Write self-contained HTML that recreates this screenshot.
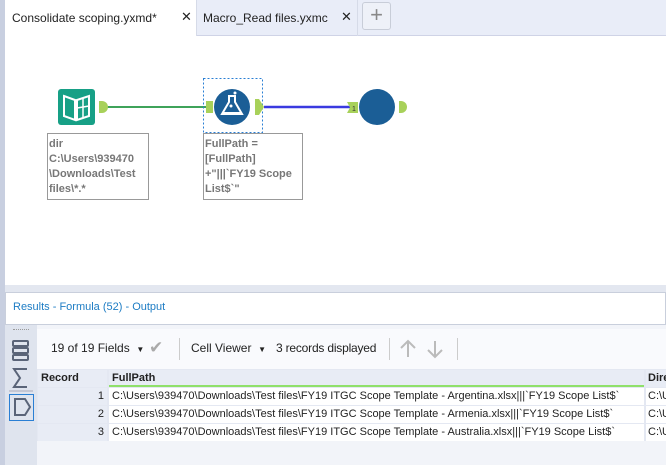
<!DOCTYPE html>
<html><head><style>
body{margin:0;width:666px;height:465px;overflow:hidden;background:#fff;font-family:"Liberation Sans",sans-serif;position:relative}
div{position:absolute;box-sizing:border-box}
.t{font-size:12px;color:#222;white-space:nowrap}
.ann{border:1px solid #999;background:#fff;color:#777;font-weight:bold;font-size:11px;line-height:15px;padding:3px 1px}
.cell{font-size:11px;white-space:nowrap;overflow:hidden;height:17px;line-height:17px;background:#fff;color:#222}
</style></head><body>
<div style="left:0;top:0;width:666px;height:36px;background:#e9edf8;border-bottom:1px solid #cfd3e6"></div>
<div style="left:0;top:0;width:5px;height:465px;background:#c8cfe0"></div>
<div style="left:5px;top:0;width:191px;height:37px;background:#fff"></div>
<div class="t" style="left:12px;top:11px;font-size:12px">Consolidate scoping.yxmd*</div>
<div class="t" style="left:181px;top:9px;font-size:13px">✕</div>
<div style="left:196px;top:0;width:1px;height:36px;background:#d6dbe8"></div>
<div class="t" style="left:203px;top:11px;font-size:12px">Macro_Read files.yxmc</div>
<div class="t" style="left:341px;top:9px;font-size:13px">✕</div>
<div style="left:357px;top:0;width:1px;height:36px;background:#d6dbe8"></div>
<div style="left:362px;top:2px;width:29px;height:28px;border:1px solid #c8cdd8;border-radius:3px;background:#eef1f8;color:#888;font-size:22px;line-height:24px;text-align:center">+</div>
<div style="left:5px;top:285px;width:661px;height:7px;background:#e3e7f0"></div>
<svg style="position:absolute;left:0;top:0" width="666" height="285">
<line x1="105" y1="107" x2="206" y2="107" stroke="#3fa35a" stroke-width="2"/>
<line x1="264" y1="107" x2="350" y2="107" stroke="#3a3ae0" stroke-width="2.5"/>
<rect x="58" y="89" width="37" height="36" rx="3" fill="#17a086"/>
<path d="M64 96 L75 100 L75 120 L64 116Z M77 100 L89 96 L89 116 L77 120Z" fill="none" stroke="#fff" stroke-width="2"/>
<line x1="83" y1="98" x2="83" y2="118" stroke="#fff" stroke-width="1.5"/>
<line x1="77" y1="108" x2="89" y2="106" stroke="#fff" stroke-width="1.5"/>
<path d="M99 101 h3 a6 6 0 0 1 0 12 h-3z" fill="#a8d15a"/>
<rect x="203.5" y="78.5" width="59" height="54" fill="none" stroke="#2a7fd4" stroke-dasharray="2,2"/>
<path d="M206 101 h7 v12 h-7z" fill="#a8d15a"/>
<circle cx="232" cy="107" r="18" fill="#1b5e96"/>
<path d="M229 96 v6 l-7 12 h20 l-7 -12 v-6z" fill="none" stroke="#fff" stroke-width="2"/>
<path d="M223 112 h18 l1 2 h-20z" fill="#fff"/>
<circle cx="231" cy="106" r="1.5" fill="#fff"/><circle cx="235" cy="93" r="1.5" fill="#fff"/>
<path d="M255 99 h4 l5 8 l-5 8 h-4z" fill="#a8d15a"/>
<path d="M347 102 h11 v11 h-11 l3 -5.5z" fill="#a8d15a"/>
<text x="352" y="111" font-size="7" fill="#333" font-family="Liberation Sans">1</text>
<circle cx="377" cy="107" r="18" fill="#1b5e96"/>
<path d="M399 101 h2 a6 6 0 0 1 0 12 h-2z" fill="#a8d15a"/>
</svg>
<div class="ann" style="left:47px;top:133px;width:102px;height:67px">dir<br>C:\Users\939470<br>\Downloads\Test<br>files\*.*</div>
<div class="ann" style="left:203px;top:133px;width:100px;height:67px">FullPath =<br>[FullPath]<br>+"|||`FY19 Scope<br>List$`"</div>
<div style="left:5px;top:292px;width:661px;height:33px;background:#fff;border:1px solid #c9cfdc"></div>
<div class="t" style="left:13px;top:301px;font-size:11px;color:#1d7cc4">Results - Formula (52) - Output</div>
<div style="left:5px;top:325px;width:661px;height:140px;background:#f2f4f9"></div>
<div style="left:5px;top:325px;width:32px;height:140px;background:#dfe4ee"></div>
<div style="left:13px;top:329px;width:16px;height:2px;border-top:1px dotted #999"></div>
<svg style="position:absolute;left:5px;top:335px" width="32" height="130">
<g fill="none" stroke="#5a6478" stroke-width="2">
<rect x="8" y="6" width="15" height="5" rx="1"/><rect x="8" y="13" width="15" height="5" rx="1"/><rect x="8" y="20" width="15" height="5" rx="1"/>
<path d="M22 34 H9 L15 43 L9 52 H22"/>
<path d="M10 64 H20 L25 72 L20 80 H10Z"/>
</g>
<line x1="4" y1="56" x2="28" y2="56" stroke="#aab" />
<rect x="4.5" y="59.5" width="24" height="26" fill="none" stroke="#2a7fd4"/>
</svg>
<div style="left:37px;top:329px;width:629px;height:40px;background:#f9fafd"></div>
<div class="t" style="left:51px;top:341px">19 of 19 Fields &nbsp;<span style="font-size:8px">▼</span></div>
<div class="t" style="left:149px;top:338px;font-size:17px;color:#aaa">✔</div>
<div style="left:179px;top:338px;width:1px;height:22px;background:#ccc"></div>
<div class="t" style="left:191px;top:341px">Cell Viewer &nbsp;<span style="font-size:8px">▼</span></div>
<div class="t" style="left:276px;top:341px;letter-spacing:-0.2px">3 records displayed</div>
<div style="left:389px;top:338px;width:1px;height:22px;background:#ccc"></div>
<svg style="position:absolute;left:396px;top:338px" width="50" height="22">
<g fill="none" stroke="#bbb" stroke-width="2"><path d="M12 19 V3 M5 10 L12 3 L19 10"/><path d="M39 3 V19 M32 12 L39 19 L46 12"/></g>
</svg>
<div style="left:457px;top:338px;width:1px;height:22px;background:#ccc"></div>
<div style="left:37px;top:369px;width:629px;height:72px;background:#e4e8f2"></div>
<div class="cell" style="left:38px;top:370px;width:69px;background:#e8ecf5;font-weight:bold;padding-left:3px">Record</div>
<div class="cell" style="left:109px;top:370px;width:535px;background:#e8ecf5;font-weight:bold;padding-left:3px;border-bottom:2px solid #8fe06a">FullPath</div>
<div class="cell" style="left:646px;top:370px;width:20px;background:#e8ecf5;font-weight:bold;padding-left:2px">Dire</div>
<div class="cell" style="left:38px;top:388px;width:69px;background:#e8ecf5;text-align:right;padding-right:3px">1</div>
<div class="cell" style="left:109px;top:388px;width:535px;padding-left:3px">C:\Users\939470\Downloads\Test files\FY19 ITGC Scope Template - Argentina.xlsx|||`FY19 Scope List$`</div>
<div class="cell" style="left:646px;top:388px;width:20px;padding-left:2px">C:\U</div>
<div class="cell" style="left:38px;top:406px;width:69px;background:#e8ecf5;text-align:right;padding-right:3px">2</div>
<div class="cell" style="left:109px;top:406px;width:535px;padding-left:3px">C:\Users\939470\Downloads\Test files\FY19 ITGC Scope Template - Armenia.xlsx|||`FY19 Scope List$`</div>
<div class="cell" style="left:646px;top:406px;width:20px;padding-left:2px">C:\U</div>
<div class="cell" style="left:38px;top:424px;width:69px;background:#e8ecf5;text-align:right;padding-right:3px">3</div>
<div class="cell" style="left:109px;top:424px;width:535px;padding-left:3px">C:\Users\939470\Downloads\Test files\FY19 ITGC Scope Template - Australia.xlsx|||`FY19 Scope List$`</div>
<div class="cell" style="left:646px;top:424px;width:20px;padding-left:2px">C:\U</div>
</body></html>
